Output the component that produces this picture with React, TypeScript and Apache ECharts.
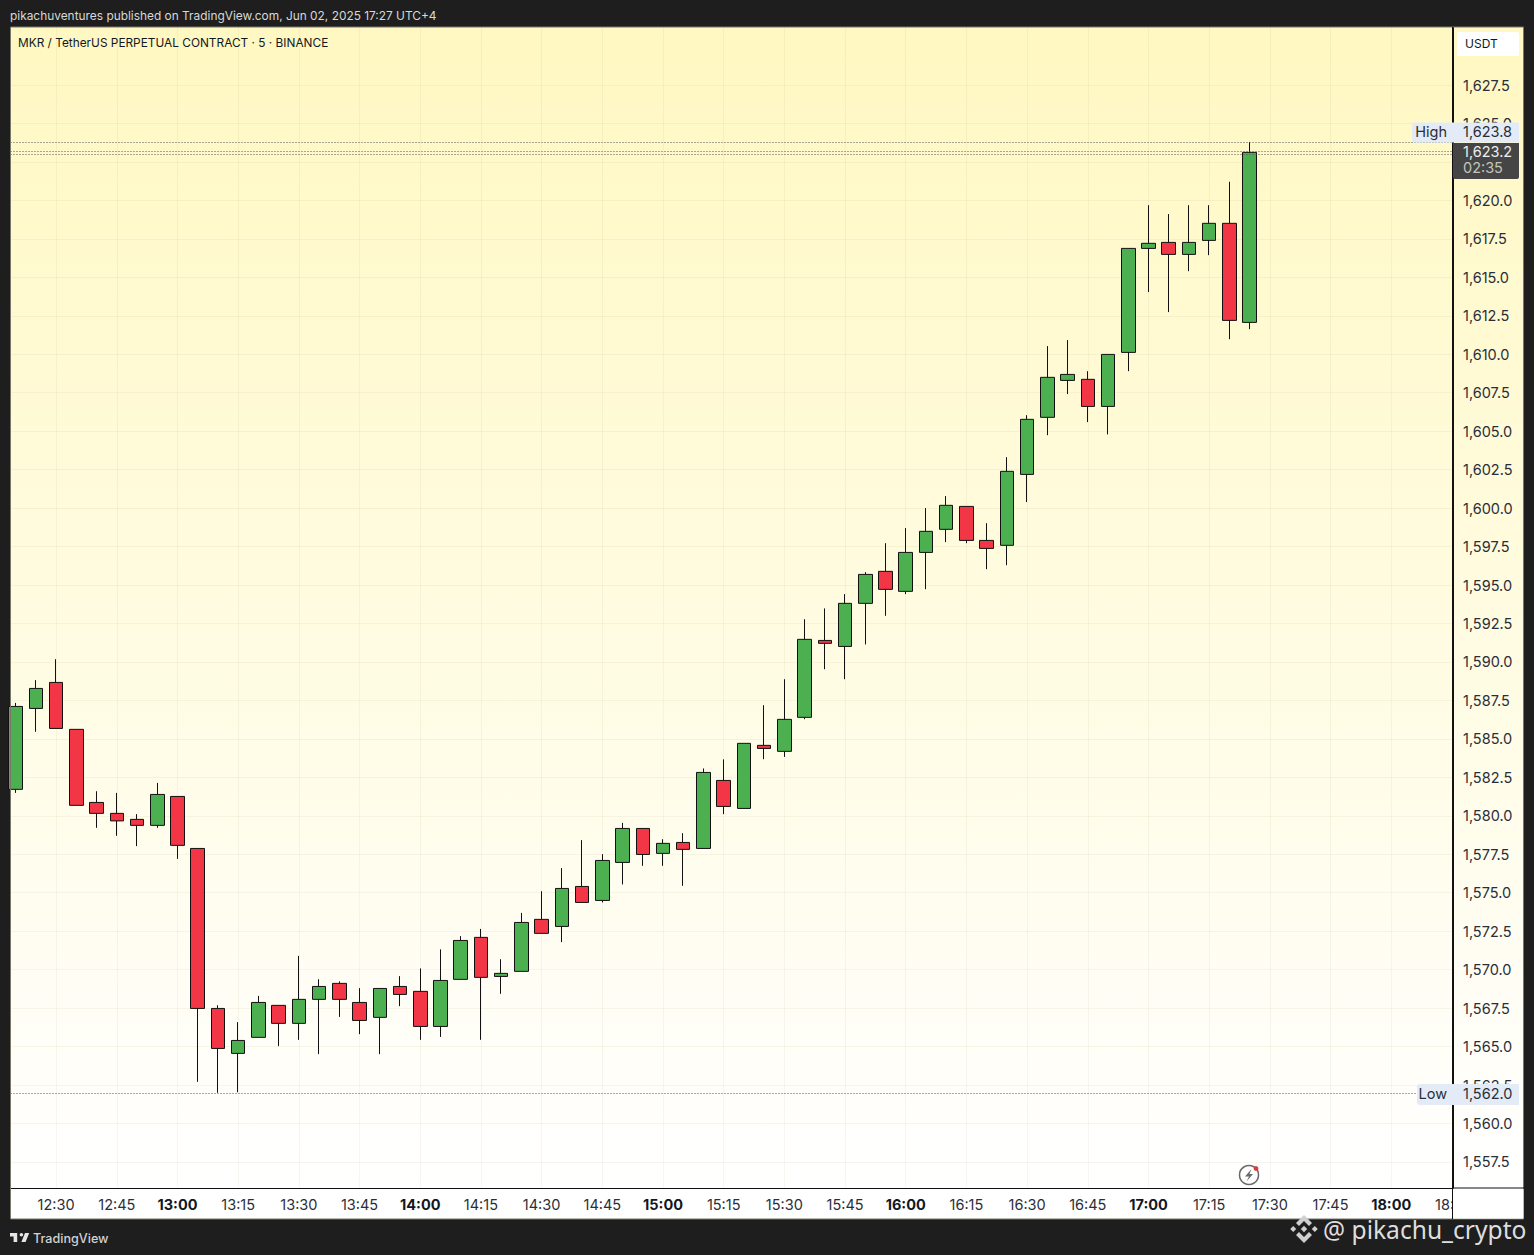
import React, { useEffect, useRef } from "react";
import * as echarts from "echarts";

const times = [
  "12:20","12:25","12:30","12:35","12:40","12:45","12:50","12:55",
  "13:00","13:05","13:10","13:15","13:20","13:25","13:30","13:35","13:40","13:45","13:50","13:55",
  "14:00","14:05","14:10","14:15","14:20","14:25","14:30","14:35","14:40","14:45","14:50","14:55",
  "15:00","15:05","15:10","15:15","15:20","15:25","15:30","15:35","15:40","15:45","15:50","15:55",
  "16:00","16:05","16:10","16:15","16:20","16:25","16:30","16:35","16:40","16:45","16:50","16:55",
  "17:00","17:05","17:10","17:15","17:20","17:25",
];
const opens = [
  1581.72,1586.98,1588.67,1585.62,1580.87,1580.16,1579.77,1579.38,
  1581.26,1577.88,1567.48,1564.56,1565.60,1567.68,1566.51,1568.07,1569.11,1567.87,1566.90,1568.91,
  1568.59,1566.31,1569.37,1572.10,1569.56,1569.89,1573.27,1572.81,1575.41,1574.50,1576.97,1579.18,
  1577.56,1578.27,1577.88,1582.30,1580.48,1584.58,1584.19,1586.40,1591.40,1591.01,1593.81,1595.89,
  1594.59,1597.12,1598.62,1600.11,1597.90,1597.58,1602.19,1605.90,1608.30,1608.37,1606.61,1610.12,
  1616.88,1617.27,1616.49,1617.40,1618.51,1612.07,
];
const closes = [
  1587.11,1588.28,1585.68,1580.68,1580.16,1579.67,1579.38,1581.39,
  1578.08,1567.48,1564.88,1565.40,1567.87,1566.51,1568.07,1568.91,1568.07,1566.70,1568.78,1568.39,
  1566.31,1569.30,1571.90,1569.50,1569.76,1573.07,1572.36,1575.28,1574.37,1577.10,1579.18,1577.49,
  1578.21,1577.82,1582.82,1580.61,1584.71,1584.38,1586.27,1591.47,1591.21,1593.81,1595.69,1594.72,
  1597.12,1598.49,1600.18,1597.90,1597.38,1602.39,1605.77,1608.50,1608.69,1606.61,1609.99,1616.88,
  1617.21,1616.49,1617.27,1618.51,1612.20,1623.12,
];
const lows = [
  1581.49,1585.46,1585.68,1580.68,1579.22,1578.70,1578.03,1579.22,
  1577.20,1562.71,1562.00,1562.03,1565.60,1565.03,1565.44,1564.51,1566.93,1565.81,1564.51,1567.63,
  1565.44,1565.63,1569.37,1565.44,1568.43,1569.89,1572.36,1571.79,1574.37,1574.37,1575.54,1576.75,
  1576.75,1575.45,1577.88,1580.11,1580.48,1583.68,1583.83,1586.28,1589.53,1588.88,1591.14,1593.00,
  1594.41,1594.73,1597.79,1597.72,1596.03,1596.29,1600.39,1604.74,1607.41,1605.59,1604.79,1608.90,
  1614.04,1612.74,1615.40,1616.44,1610.98,1611.63,
];
const highs = [
  1587.34,1588.82,1590.18,1585.62,1581.60,1581.49,1580.11,1582.14,
  1581.26,1577.88,1567.69,1566.59,1568.30,1567.68,1570.90,1569.38,1569.24,1568.80,1568.78,1569.58,
  1570.08,1571.32,1572.18,1572.65,1570.68,1573.69,1575.10,1576.60,1578.42,1577.51,1579.54,1579.18,
  1578.48,1578.87,1583.08,1583.67,1584.71,1587.19,1588.88,1592.78,1593.48,1594.41,1595.84,1597.72,
  1598.70,1600.00,1600.78,1600.11,1599.02,1603.31,1606.04,1610.53,1610.92,1608.90,1609.99,1616.88,
  1619.69,1619.11,1619.69,1619.69,1621.21,1623.80,
];
const xTickLabels = [
  "12:30","12:45","13:00","13:15","13:30","13:45","14:00","14:15","14:30","14:45","15:00","15:15",
  "15:30","15:45","16:00","16:15","16:30","16:45","17:00","17:15","17:30","17:45","18:00","18:15",
];
const yTicks = [
  1557.5,1560,1562.5,1565,1567.5,1570,1572.5,1575,1577.5,1580,1582.5,1585,1587.5,1590,1592.5,
  1595,1597.5,1600,1602.5,1605,1607.5,1610,1612.5,1615,1617.5,1620,1622.5,1625,1627.5,
];
// 1,622.5 sits fully behind the last-price box in the reference, so it has a grid line but no label.
const yTickLabels = yTicks.filter((v) => v !== 1622.5);
const highPrice = 1623.8;
const lowPrice = 1562.0;
const lastPrice = 1623.2;
const lastPriceShadow = 1623.0;
const countdown = "02:35";
const publishedText = "pikachuventures published on TradingView.com, Jun 02, 2025 17:27 UTC+4";
const symbolText = "MKR / TetherUS PERPETUAL CONTRACT · 5 · BINANCE";
const unitText = "USDT";
const handleText = "@ pikachu_crypto";

const FONT = "Inter, 'Noto Sans', sans-serif";
const toMin = (t: string) => {
  const [h, m] = t.split(":").map(Number);
  return h * 60 + m;
};
const fromMin = (v: number) => {
  const h = Math.floor(v / 60);
  const m = Math.round(v - h * 60);
  return `${h}:${String(m).padStart(2, "0")}`;
};
const fmtPrice = (v: number) =>
  v.toLocaleString("en-US", { minimumFractionDigits: 1, maximumFractionDigits: 1 });

echarts.graphic.registerShape(
  "tvlogo",
  echarts.graphic.extendPath(
    "M14 6H2v6h6v9h6V6zm14 15h-7l6-15h7l-6 15zm-7-9a3 3 0 1 0 0-6 3 3 0 0 0 0 6z",
    {}
  )
);
echarts.graphic.registerShape(
  "bnblogo",
  echarts.graphic.extendPath(
    "M0 -14L8 -6L5 -3L0 -8L-5 -3L-8 -6ZM0 14L8 6L5 3L0 8L-5 3L-8 6ZM-10.8 -3L-7.8 0L-10.8 3L-13.8 0ZM10.8 -3L13.8 0L10.8 3L7.8 0ZM0 -3.2L3.2 0L0 3.2L-3.2 0Z",
    {}
  )
);

const label = (
  x: number,
  y: number,
  text: string,
  fill: string,
  size = 14.5,
  align = "left",
  weight: any = 400,
  font = FONT,
  z = 70
) => ({
  type: "text",
  z,
  silent: true,
  x,
  y,
  style: { text, fill, fontSize: size, fontFamily: font, fontWeight: weight, align, verticalAlign: "middle" },
});

const box = (x: number, y: number, w: number, h: number, fill: string, r: any = 0, z = 60) => ({
  type: "rect",
  z,
  silent: true,
  shape: { x, y, width: w, height: h, r },
  style: { fill },
});

export default function App() {
  const ref = useRef<HTMLDivElement>(null);
  useEffect(() => {
    document.body.style.margin = "0";
    document.body.style.background = "#1e1e1e";
    const chart = echarts.init(ref.current!, undefined, { renderer: "svg" });
    const data = times.map((t, i) => [toMin(t), opens[i], closes[i], lows[i], highs[i]]);
    const xMin = 738.72;
    const xMax = 1095.27;
    const yMin = 1555.81;
    const yMax = 1631.27;
    const gridColor = "rgba(110,105,40,0.06)";
    const dotted = { type: [1, 2], color: "#555555", width: 1 };
    const xTicks = xTickLabels.map(toMin);
    chart.setOption({
      animation: false,
      backgroundColor: "#1e1e1e",
      grid: { left: 10.5, right: 81, top: 27, bottom: 67, containLabel: false },
      xAxis: {
        type: "value",
        min: xMin,
        max: xMax,
        axisLine: { show: true, onZero: false, lineStyle: { color: "#111", width: 1 } },
        axisTick: { show: false, customValues: xTicks },
        splitLine: { show: true, lineStyle: { color: gridColor, width: 1 } },
        axisLabel: {
          customValues: xTicks,
          margin: 9,
          color: "#2a2e39",
          fontFamily: FONT,
          fontSize: 14.5,
          showMinLabel: true,
          showMaxLabel: true,
          hideOverlap: false,
          formatter: (v: number) => (v % 60 === 0 ? `{b|${fromMin(v)}}` : fromMin(v)),
          rich: { b: { fontWeight: 700, fontSize: 14.5, fontFamily: FONT, color: "#131722" } },
        },
      },
      yAxis: {
        type: "value",
        position: "right",
        min: yMin,
        max: yMax,
        axisLine: { show: true, onZero: false, lineStyle: { color: "#111", width: 1 } },
        axisTick: { show: false, customValues: yTicks },
        splitLine: { show: true, lineStyle: { color: gridColor, width: 1 } },
        axisLabel: {
          customValues: yTickLabels,
          margin: 10,
          color: "#2a2e39",
          fontFamily: FONT,
          fontSize: 14.5,
          align: "left",
          padding: [0, 0, 2, 0],
          formatter: (v: number) => fmtPrice(v),
        },
      },
      series: [
        {
          type: "candlestick",
          name: "MKRUSDT.P",
          data,
          barWidth: 14,
          encode: { x: 0, y: [1, 2, 3, 4] },
          itemStyle: {
            color: "#4CAF50",
            color0: "#F23645",
            borderColor: "#111",
            borderColor0: "#111",
            borderWidth: 1,
          },
          markLine: {
            silent: true,
            symbol: "none",
            animation: false,
            label: { show: false },
            lineStyle: dotted,
            data: [
              { yAxis: highPrice },
              { yAxis: lastPrice },
              { yAxis: lastPriceShadow },
              { yAxis: lowPrice },
            ],
          },
        },
      ],
      graphic: {
        elements: [
          {
            type: "rect",
            z: -10,
            silent: true,
            shape: { x: 10.5, y: 27, width: 1513, height: 1161 },
            style: {
              fill: new echarts.graphic.LinearGradient(0, 0, 0, 1, [
                { offset: 0, color: "#FFF8C2" },
                { offset: 1, color: "#FFFFFF" },
              ]),
            },
          },
          { type: "rect", z: -10, silent: true, shape: { x: 10.5, y: 1188, width: 1513, height: 31 }, style: { fill: "#FFFFFF" } },
          {
            type: "rect",
            z: 40,
            silent: true,
            shape: { x: 10.5, y: 27, width: 1513, height: 1192 },
            style: { fill: "none", stroke: "#77776a", lineWidth: 1 },
          },
          box(1453, 1189, 70.5, 29.5, "#FFFFFF", 0, 42),
          { type: "line", z: 45, silent: true, shape: { x1: 1452.5, y1: 27, x2: 1452.5, y2: 1219 }, style: { stroke: "#111", lineWidth: 1 } },
          { type: "line", z: 45, silent: true, shape: { x1: 1452.5, y1: 1188, x2: 1524, y2: 1188 }, style: { stroke: "#111", lineWidth: 1 } },

          label(10, 15, publishedText, "#d8d8d8", 11.9),
          label(18, 42.5, symbolText, "#131722", 11.85),

          box(1457, 32, 62, 24, "#FFFFFF", 2),
          label(1465, 43.5, unitText, "#131722", 12),

          box(1412, 122.5, 107, 20, "#E3EBF7", [3, 0, 0, 3]),
          label(1447, 131, "High", "#2a2e39", 14.5, "right"),
          label(1463, 131, fmtPrice(highPrice), "#2a2e39"),

          box(1453, 143, 66, 36, "#454545", [0, 0, 2, 2]),
          label(1463, 151, fmtPrice(lastPrice), "#eeeeee"),
          label(1463, 167, countdown, "#c4c4b8"),

          box(1417, 1084, 102, 21, "#E3EBF7", [3, 0, 0, 3]),
          label(1447, 1093.5, "Low", "#2a2e39", 14.5, "right"),
          label(1463, 1093.5, fmtPrice(lowPrice), "#2a2e39"),

          { type: "circle", z: 60, silent: true, shape: { cx: 1249, cy: 1175, r: 9.5 }, style: { fill: "none", stroke: "#6a6a6a", lineWidth: 1.5 } },
          {
            type: "polygon",
            z: 60,
            silent: true,
            shape: { points: [[1251.5, 1169], [1245, 1176.5], [1249, 1176.5], [1246.5, 1181.5], [1253, 1174], [1249.5, 1174]] },
            style: { fill: "#6a6a6a" },
          },
          { type: "circle", z: 61, silent: true, shape: { cx: 1256, cy: 1168.5, r: 2.4 }, style: { fill: "#E0383E" } },

          { type: "tvlogo", z: 60, silent: true, x: 8.8, y: 1229.4, scaleX: 0.6, scaleY: 0.6, style: { fill: "#e6e6e6" } },
          label(33, 1238, "TradingView", "#d2d2d2", 12.6, "left", 500),

          { type: "bnblogo", z: 60, silent: true, x: 1304, y: 1229, style: { fill: "#cfcfcf" } },
          label(1323, 1229, handleText, "#dedede", 24.6, "left", 400, "'Noto Sans', sans-serif"),
        ],
      },
    });
    return () => chart.dispose();
  }, []);
  return <div ref={ref} style={{ width: 1534, height: 1255 }} />;
}
